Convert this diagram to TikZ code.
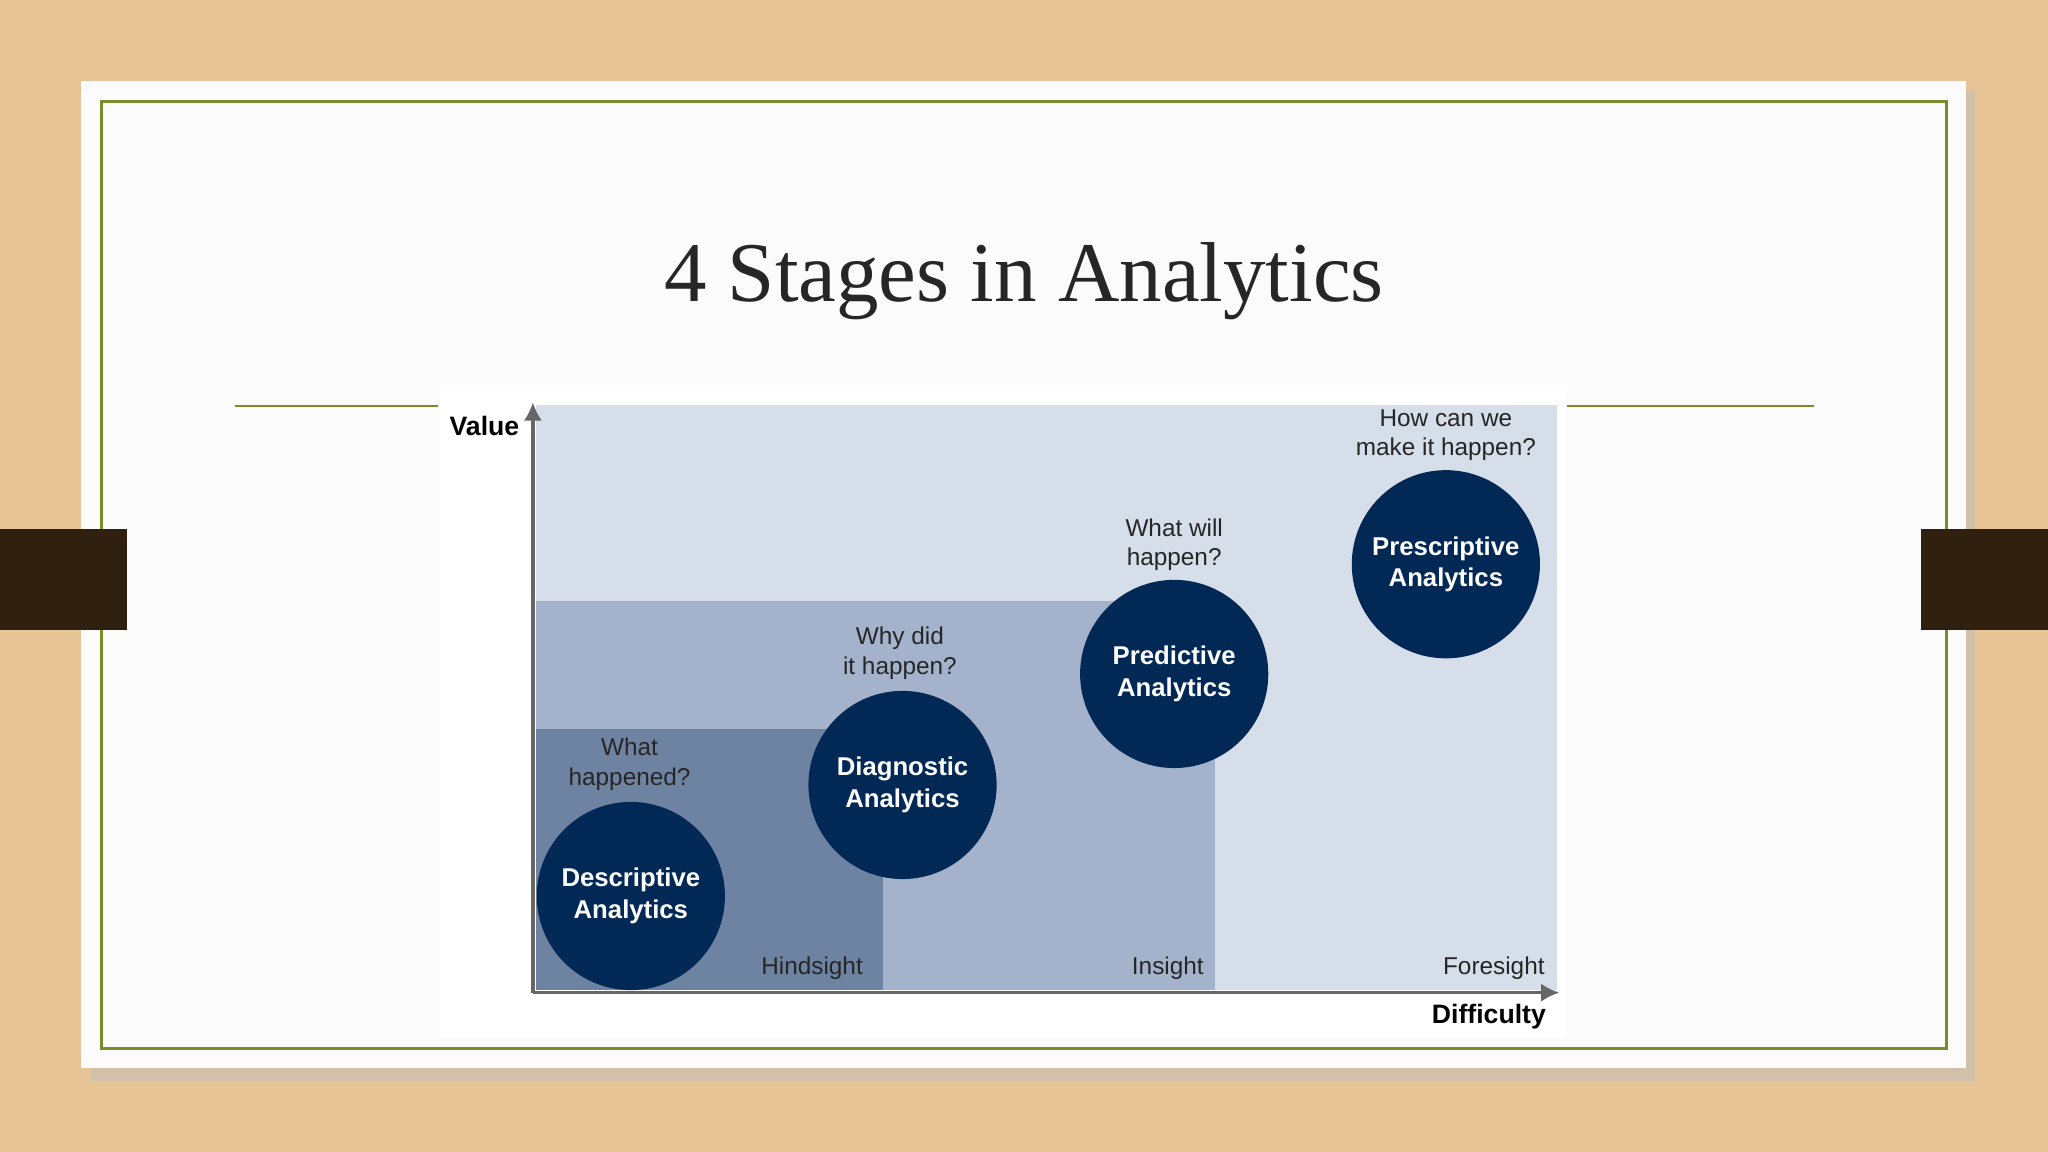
\documentclass[tikz,border=0pt]{standalone}
\usepackage{fontspec}
\setmainfont{Liberation Sans}
\newfontfamily\titlefont{Liberation Serif}
\usetikzlibrary{arrows.meta}
\begin{document}
\begin{tikzpicture}[x=0.01cm,y=-0.01cm,
  stage/.style={circle,fill=navy,minimum size=1.44cm,inner sep=0,text=white,font=\fontsize{5.6}{6.9}\selectfont\bfseries,align=center},
  q/.style={font=\fontsize{5.3}{6.4}\selectfont,align=center,text=black!85},
  ax/.style={draw=gray!80!black,line width=0.8pt,-{Latex[length=4pt,width=4pt]}}]
\definecolor{navy}{RGB}{2,40,86}
\definecolor{wood}{RGB}{230,196,150}
\definecolor{olive}{RGB}{120,140,40}
\definecolor{la}{RGB}{214,222,234}
\definecolor{lb}{RGB}{164,179,203}
\definecolor{lc}{RGB}{110,131,162}
\useasboundingbox (0,0) rectangle (1568,882);
\fill[wood] (0,0) rectangle (1568,882);
\fill[black!25,opacity=0.5] (70,70) rectangle (1512,828);
\fill[white!97!gray] (62,62) rectangle (1505,818);
\draw[olive,line width=0.6pt] (78,78) rectangle (1490,803);
\fill[black!75!brown] (0,405) rectangle (97,482);
\fill[black!75!brown] (1471,405) rectangle (1568,482);
\node[font=\titlefont\fontsize{18.5}{22}\selectfont,text=black!85] (title) at (784,215) {4 Stages in Analytics};
\draw[olive,line width=0.5pt] (180,311) -- (335,311);
\draw[olive,line width=0.5pt] (1200,311) -- (1389,311);
\fill[white] (337,295) rectangle (1200,795);
\fill[la] (410,310) rectangle (1192,758);
\fill[lb] (410,460) rectangle (930,758);
\fill[lc] (410,558) rectangle (676,758);
\coordinate (o) at (408,760);
\coordinate (yt) at (408,308);
\coordinate (xr) at (1194,760);
\draw[ax] (o) -- (yt);
\draw[ax] (o) -- (xr);
\node[font=\fontsize{5.8}{7}\selectfont\bfseries,anchor=east] (v) at (410,326) {Value};
\node[font=\fontsize{5.8}{7}\selectfont\bfseries,anchor=east] (d) at (1196,778) {Difficulty};
\node[stage] (s1) at (483,686) {Descriptive\\Analytics};
\node[stage] (s2) at (691,601) {Diagnostic\\Analytics};
\node[stage] (s3) at (899,516) {Predictive\\Analytics};
\node[stage] (s4) at (1107,432) {Prescriptive\\Analytics};
\node[q] (q1) at (482,585) {What\\happened?};
\node[q] (q2) at (689,500) {Why did\\it happen?};
\node[q] (q3) at (899,417) {What will\\happen?};
\node[q] (q4) at (1107,333) {How can we\\make it happen?};
\node[q,anchor=east] (h) at (673,741) {Hindsight};
\node[q,anchor=east] (i) at (934,741) {Insight};
\node[q,anchor=east] (f) at (1195,741) {Foresight};
\end{tikzpicture}
\end{document}
